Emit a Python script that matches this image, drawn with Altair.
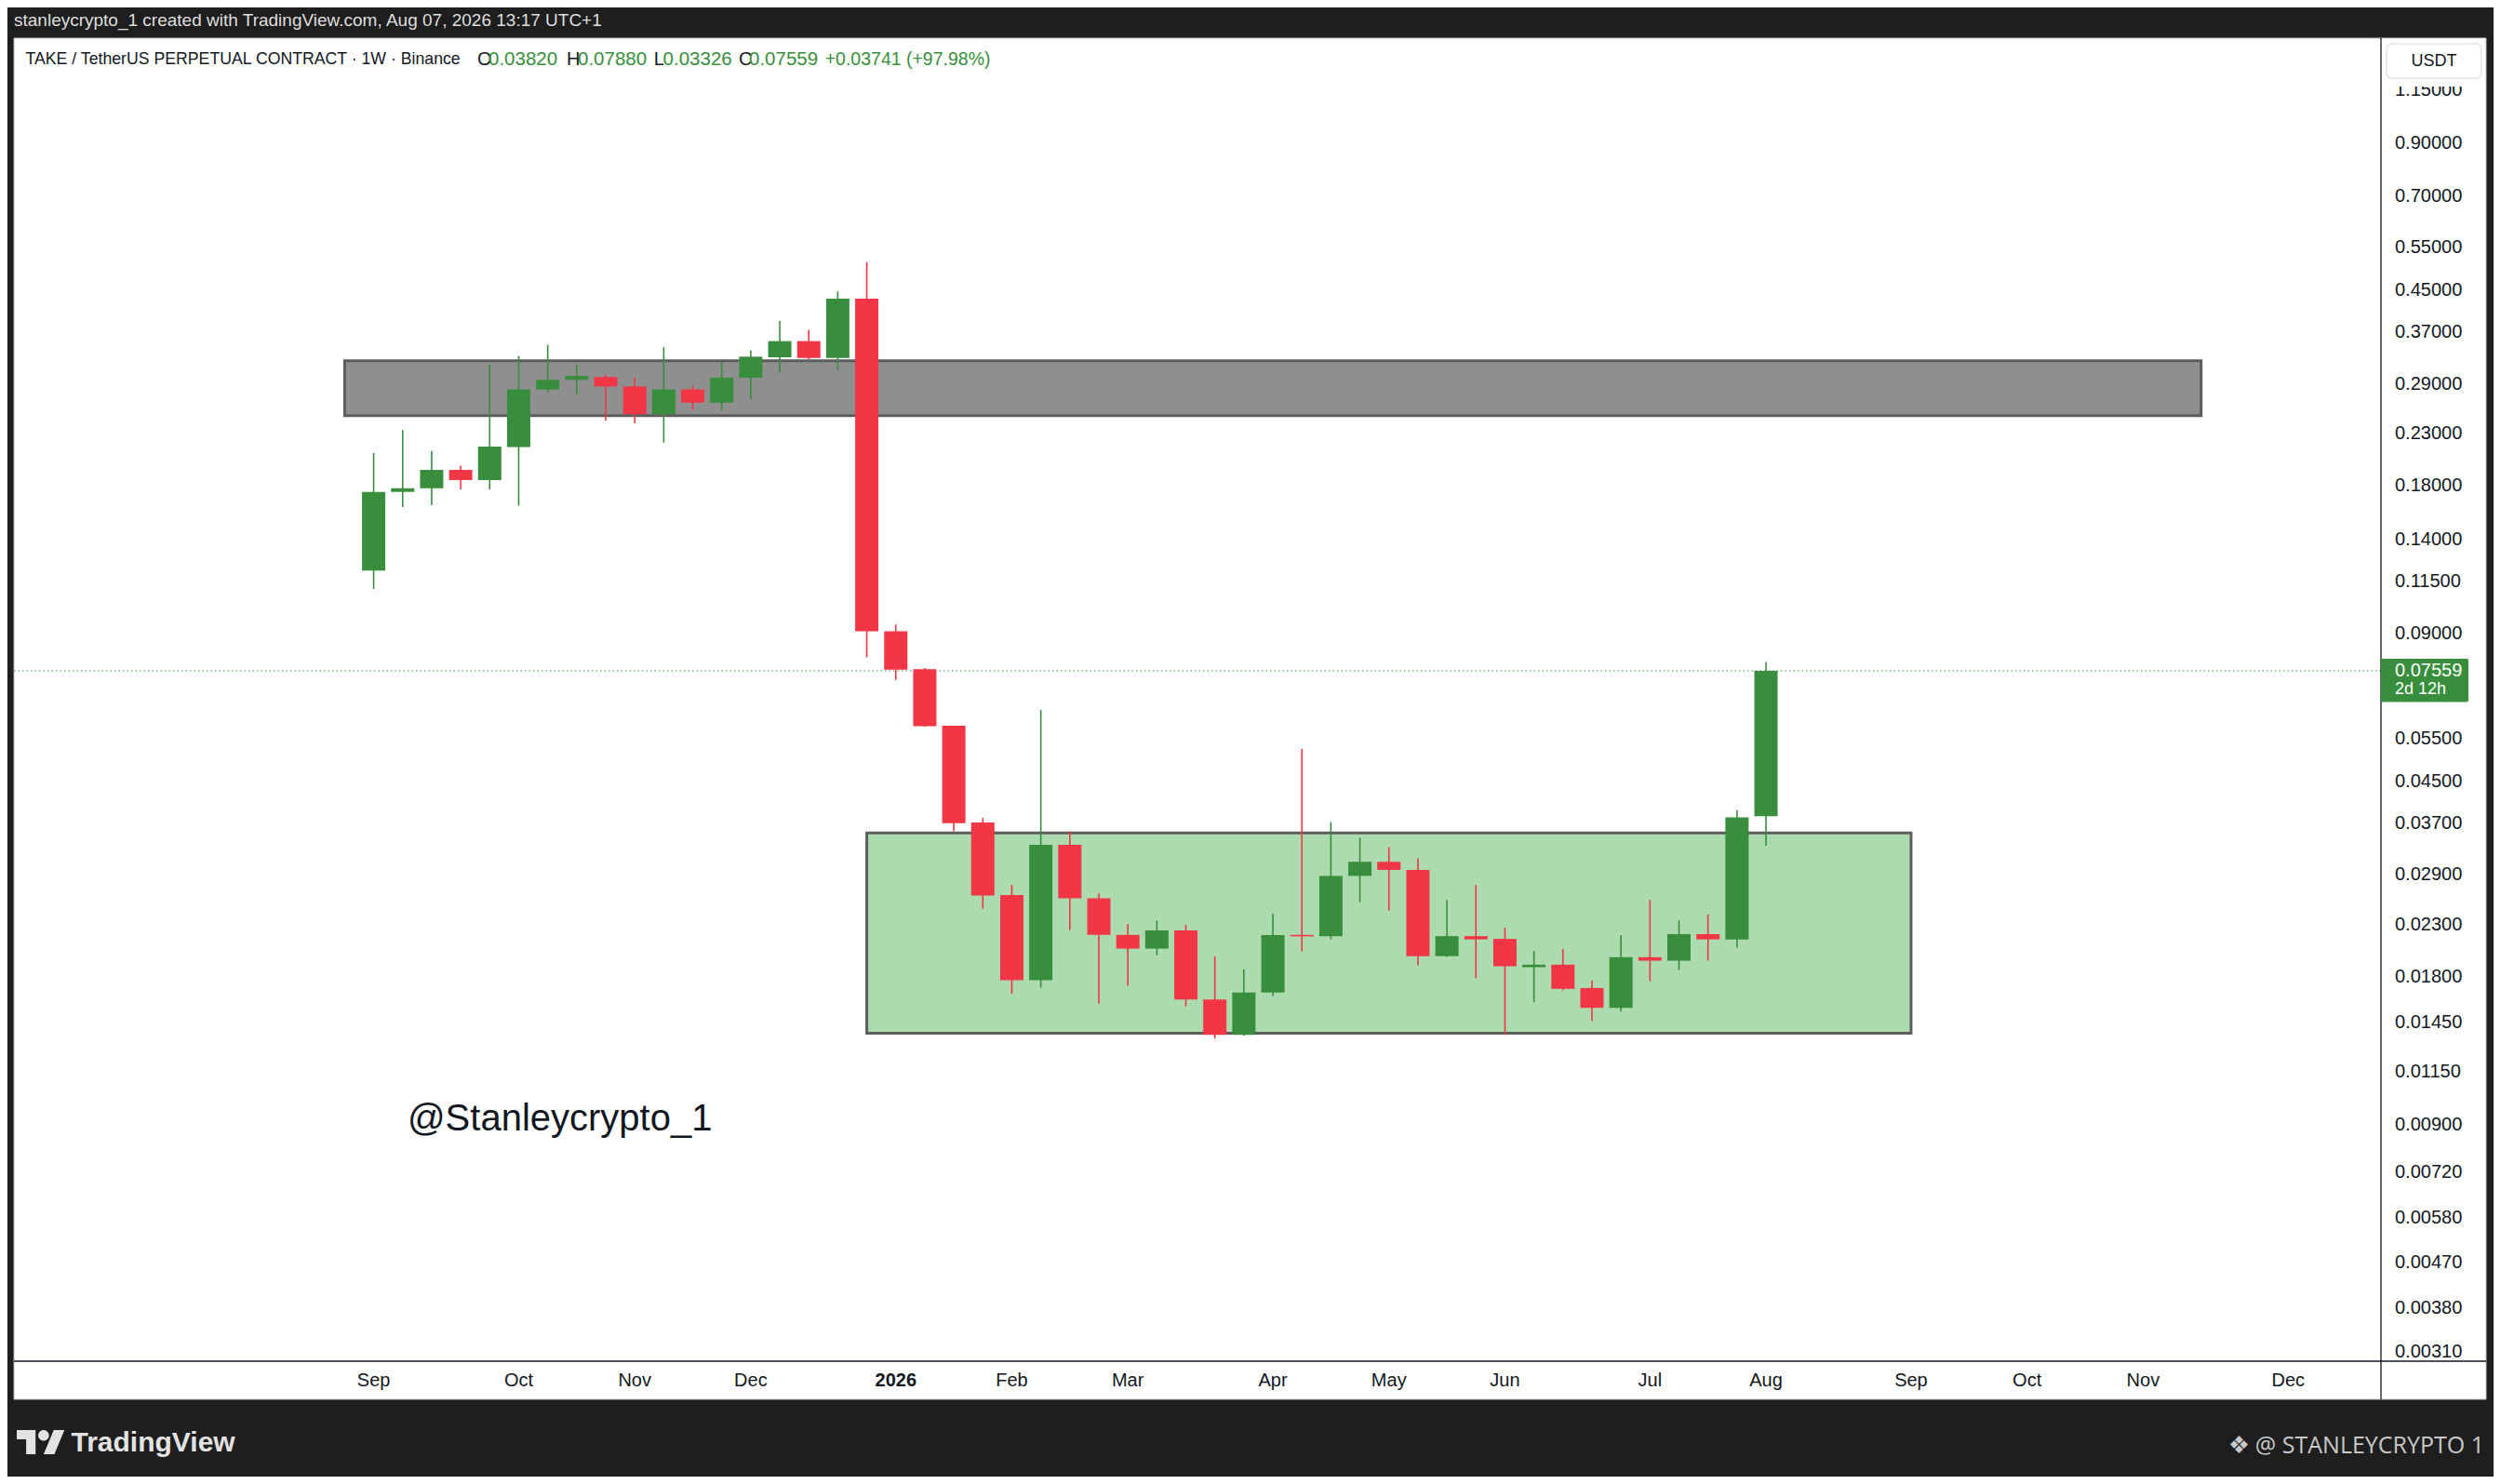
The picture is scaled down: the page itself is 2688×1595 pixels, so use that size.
import altair as alt
import pandas as pd

# ---------------- data (weekly candles, TAKE/USDT perp) ----------------
opens  = [0.121, 0.175, 0.178, 0.194, 0.185, 0.216, 0.283, 0.296, 0.300, 0.287,
          0.252, 0.283, 0.266, 0.299, 0.329, 0.355, 0.328, 0.433, 0.091, 0.0762,
          0.0584, 0.0371, 0.0264, 0.0177, 0.0334, 0.0260, 0.0219, 0.02053, 0.02236, 0.01617,
          0.0137, 0.01671, 0.0219, 0.02175, 0.02888, 0.03085, 0.0297, 0.01982, 0.02177, 0.02149,
          0.01882, 0.01904, 0.01707, 0.01555, 0.01972, 0.0194, 0.02198, 0.02144, 0.03820]
highs  = [0.210, 0.234, 0.212, 0.198, 0.318, 0.331, 0.349, 0.318, 0.303, 0.299,
          0.345, 0.288, 0.322, 0.340, 0.390, 0.374, 0.448, 0.514, 0.0939, 0.0766,
          0.0584, 0.0379, 0.0277, 0.0629, 0.0356, 0.0266, 0.02305, 0.02345, 0.02295, 0.0198,
          0.01863, 0.02418, 0.0524, 0.0372, 0.03454, 0.03306, 0.03138, 0.02581, 0.02767, 0.02266,
          0.02032, 0.0205, 0.01768, 0.02187, 0.02581, 0.02345, 0.02408, 0.0393, 0.07880]
lows   = [0.111, 0.163, 0.1645, 0.177, 0.177, 0.164, 0.279, 0.276, 0.2445, 0.2415,
          0.2205, 0.257, 0.256, 0.270, 0.306, 0.326, 0.310, 0.0805, 0.0724, 0.0582,
          0.0356, 0.02475, 0.0166, 0.0171, 0.0224, 0.01586, 0.01725, 0.0199, 0.01567, 0.01346,
          0.01366, 0.01644, 0.02027, 0.02144, 0.02552, 0.02453, 0.01898, 0.01975, 0.01787, 0.0137,
          0.01596, 0.01688, 0.01462, 0.01528, 0.01762, 0.01857, 0.0194, 0.02062, 0.03326]
closes = [0.175, 0.178, 0.194, 0.185, 0.2165, 0.283, 0.296, 0.3015, 0.287, 0.252,
          0.283, 0.266, 0.299, 0.330, 0.355, 0.328, 0.433, 0.091, 0.076, 0.0583,
          0.037, 0.02635, 0.0177, 0.0334, 0.0260, 0.0219, 0.02053, 0.02236, 0.01617, 0.0137,
          0.01671, 0.02187, 0.02175, 0.02888, 0.03085, 0.0297, 0.01982, 0.02177, 0.02144, 0.0189,
          0.01904, 0.017, 0.01555, 0.01972, 0.0194, 0.02198, 0.02144, 0.0380, 0.07559]

month_tick_idx = [0, 5, 9, 13, 18, 22, 26, 31, 35, 39, 44, 48, 53, 57, 61, 66]
month_tick_lbl = ["Sep", "Oct", "Nov", "Dec", "2026", "Feb", "Mar", "Apr", "May",
                  "Jun", "Jul", "Aug", "Sep", "Oct", "Nov", "Dec"]
price_ticks = [1.15, 0.9, 0.7, 0.55, 0.45, 0.37, 0.29, 0.23, 0.18, 0.14, 0.115, 0.09,
               0.055, 0.045, 0.037, 0.029, 0.023, 0.018, 0.0145, 0.0115, 0.009, 0.0072,
               0.0058, 0.0047, 0.0038, 0.0031]

zone_start = [-1, 17]
zone_end = [63, 53]
zone_top = [0.3237, 0.03533]
zone_bottom = [0.2503, 0.01381]
zone_kind = ["resistance", "support"]

last_price = 0.07559

# ---------------- setup ----------------
FONT = "Liberation Sans"
GREEN = "#388e3c"
RED = "#f23645"
INK = "#131722"
W, H = 2544, 1422

n = len(opens)
candles = pd.DataFrame({"idx": list(range(n)), "open": opens, "high": highs,
                        "low": lows, "close": closes})
candles["dir"] = ["up" if c >= o else "down" for o, c in zip(opens, closes)]

zones = pd.DataFrame({"x0": zone_start, "x1": zone_end, "top": zone_top,
                      "bot": zone_bottom, "kind": zone_kind})
ticks_df = pd.DataFrame({"price": price_ticks,
                         "label": [f"{p:.5f}" for p in price_ticks]})
months_df = pd.DataFrame({"idx": month_tick_idx, "label": month_tick_lbl,
                          "bold": [l == "2026" for l in month_tick_lbl]})
last_df = pd.DataFrame({"price": [last_price], "label": [f"{last_price:.5f}"]})
one = pd.DataFrame({"a": [0]})

xs = alt.Scale(domain=[-12.24, 69.04], nice=False, zero=False)
ys = alt.Scale(type="log", domain=[0.0029636, 1.4707], nice=False)
col = alt.Color("dir:N", scale=alt.Scale(domain=["up", "down"], range=[GREEN, RED]),
                legend=None)


def ptext(txt, x, y, size, color=INK, align="left", baseline="middle",
          weight="normal", font=FONT):
    return alt.Chart(one).mark_text(
        text=txt, align=align, baseline=baseline, fontSize=size, font=font,
        fontWeight=weight, color=color
    ).encode(x=alt.value(x), y=alt.value(y))


def prect(x, x2, y, y2, **kw):
    return alt.Chart(one).mark_rect(**kw).encode(
        x=alt.value(x), x2=alt.value(x2), y=alt.value(y), y2=alt.value(y2))


panel = prect(0, 2657, 0, 1463, fill="white", stroke="#b8b8b8", strokeWidth=1)

zone_layer = alt.Chart(zones).mark_rect(stroke="#5d5d5d", strokeWidth=3).encode(
    x=alt.X("x0:Q", scale=xs, axis=None), x2="x1:Q",
    y=alt.Y("top:Q", scale=ys, axis=None), y2="bot:Q",
    fill=alt.Fill("kind:N", scale=alt.Scale(domain=["resistance", "support"],
                                            range=["#8f8f8f", "#acdbb0"]), legend=None))

price_line = alt.Chart(last_df).mark_rule(color=GREEN, strokeWidth=1.2,
                                          strokeDash=[1.5, 3]).encode(
    y=alt.Y("price:Q", scale=ys, axis=None), x=alt.value(0), x2=alt.value(W))

wicks = alt.Chart(candles).mark_rule(strokeWidth=1.6).encode(
    x=alt.X("idx:Q", scale=xs, axis=None),
    y=alt.Y("low:Q", scale=ys, axis=None), y2="high:Q", color=col)

bodies = alt.Chart(candles).mark_bar(size=25).encode(
    x=alt.X("idx:Q", scale=xs, axis=None),
    y=alt.Y("open:Q", scale=ys, axis=None), y2="close:Q", color=col)

hline = alt.Chart(one).mark_rule(color=INK, strokeWidth=1.3).encode(
    x=alt.value(0), x2=alt.value(2657), y=alt.value(H))
vline = alt.Chart(one).mark_rule(color=INK, strokeWidth=1.3).encode(
    x=alt.value(W), y=alt.value(0), y2=alt.value(1463))

ylabels = alt.Chart(ticks_df).mark_text(align="left", baseline="middle", fontSize=20,
                                        font=FONT, color=INK).encode(
    y=alt.Y("price:Q", scale=ys, axis=None), x=alt.value(2559), text="label:N")

# top of the price scale is clipped just under the currency box
ycap = prect(2545, 2656, 0.5, 52, fill="white")

xlabels = alt.Chart(months_df).transform_filter("!datum.bold").mark_text(
    align="center", baseline="middle", fontSize=20, font=FONT, color=INK).encode(
    x=alt.X("idx:Q", scale=xs, axis=None), y=alt.value(1443), text="label:N")
xlabels_b = alt.Chart(months_df).transform_filter("datum.bold").mark_text(
    align="center", baseline="middle", fontSize=20, font=FONT, color=INK,
    fontWeight="bold").encode(
    x=alt.X("idx:Q", scale=xs, axis=None), y=alt.value(1443), text="label:N")

tag_box = alt.Chart(last_df).mark_rect(fill=GREEN, yOffset=-13, y2Offset=33.5,
                                       cornerRadius=2).encode(
    y=alt.Y("price:Q", scale=ys, axis=None), y2="price:Q",
    x=alt.value(W), x2=alt.value(2638))
tag_txt = alt.Chart(last_df).mark_text(align="left", baseline="middle", fontSize=20,
                                       font=FONT, color="white").encode(
    y=alt.Y("price:Q", scale=ys, axis=None), x=alt.value(2559), text="label:N")
tag_txt2 = alt.Chart(last_df).mark_text(align="left", baseline="middle", fontSize=18,
                                        font=FONT, color="white", dy=20,
                                        text="2d 12h").encode(
    y=alt.Y("price:Q", scale=ys, axis=None), x=alt.value(2559))

usdt_box = prect(2550, 2652, 6, 43, fill="white", stroke="#e0e3eb", strokeWidth=1.5,
                 cornerRadius=6)
usdt_txt = ptext("USDT", 2601, 25, 18, align="center")

header = ptext("stanleycrypto_1 created with TradingView.com, Aug 07, 2026 13:17 UTC+1",
               0, -19, 19, color="#dedede")

legend_parts = [
    ptext("TAKE / TetherUS PERPETUAL CONTRACT · 1W · Binance", 12.5, 23, 17.7),
    ptext("O", 498, 23, 20), ptext("0.03820", 510, 23, 20.5, color=GREEN),
    ptext("H", 594, 23, 20), ptext("0.07880", 606, 23, 20.5, color=GREEN),
    ptext("L", 687.8, 23, 20), ptext("0.03326", 697.6, 23, 20.5, color=GREEN),
    ptext("C", 779, 23, 20), ptext("0.07559", 790, 23, 20.5, color=GREEN),
    ptext("+0.03741 (+97.98%)", 871.7, 23, 19.5, color=GREEN),
]

watermark = ptext("@Stanleycrypto_1", 423, 1174, 40, baseline="alphabetic")

logo_path = ("M-0.222,0.5 L-0.611,0.5 L-0.611,-0.111 L-1,-0.111 L-1,-0.5 L-0.222,-0.5 Z "
             "M0.556,0.5 L0.111,0.5 L0.528,-0.5 L0.972,-0.5 Z "
             "M-0.111,-0.278 A0.222,0.222 0 1,0 0.333,-0.278 A0.222,0.222 0 1,0 -0.111,-0.278 Z")
logo_icon = alt.Chart(one).mark_point(shape=logo_path, filled=True, fill="#e3e3e3",
                                      size=2704, opacity=1).encode(
    x=alt.value(29), y=alt.value(1509))
logo_txt = ptext("TradingView", 61.5, 1519, 30, color="#e3e3e3", baseline="alphabetic",
                 weight="bold")

sig_icon = ptext("❖", 2403, 1513, 26, color="#c8c8c8", align="right", font="DejaVu Sans")
sig_txt = ptext("@ STANLEYCRYPTO 1", 2655, 1513, 25, color="#c8c8c8", align="right",
                font="Open Sans")

layers = [panel, zone_layer, price_line, wicks, bodies, hline, vline, ylabels, ycap,
          xlabels, xlabels_b, tag_box, tag_txt, tag_txt2, usdt_box, usdt_txt,
          header] + legend_parts + [watermark, logo_icon, logo_txt, sig_icon, sig_txt]

chart = alt.layer(*layers).properties(
    width=W, height=H,
    padding={"left": 7, "top": 33, "right": 121, "bottom": 124},
    autosize=alt.AutoSizeParams(type="none"),
    background="#1e1e1e",
).configure_view(stroke=None)

chart.save("out.html", embed_options={"renderer": "svg", "actions": False})
